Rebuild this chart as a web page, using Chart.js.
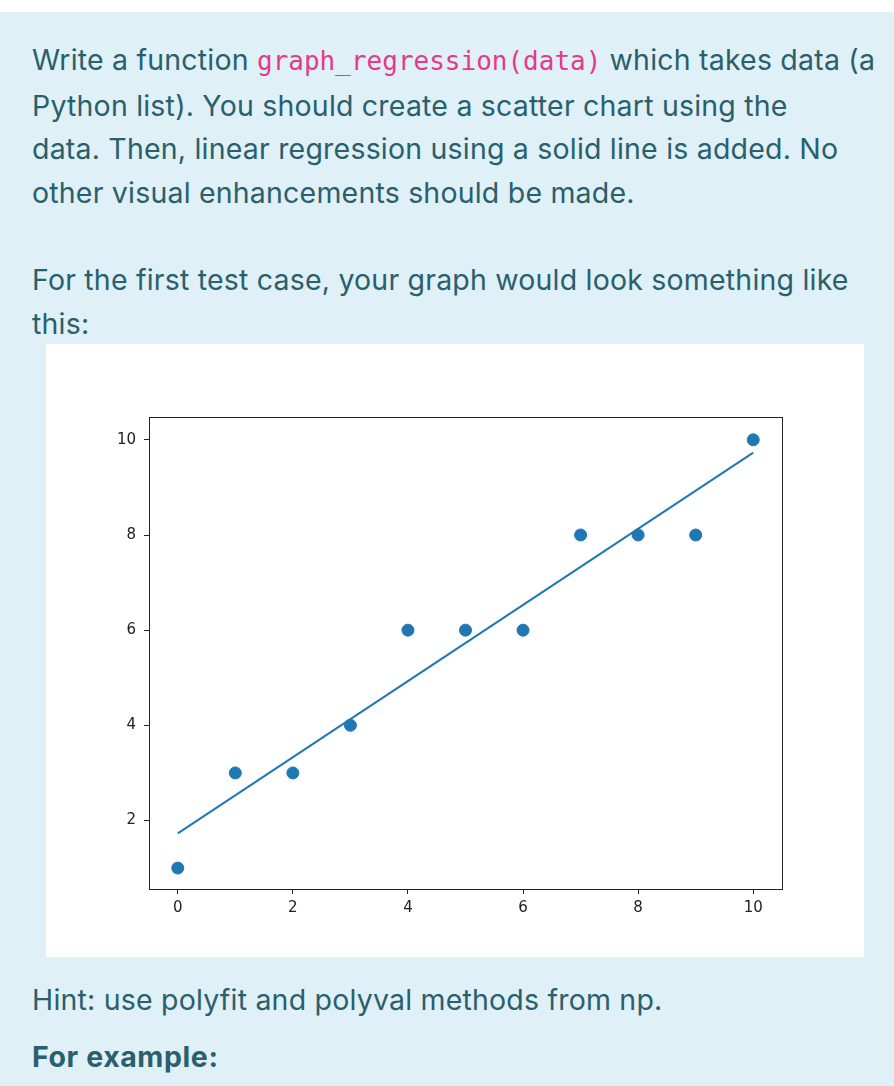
<!DOCTYPE html>
<html>
<head>
<meta charset="utf-8">
<script src="https://cdn.jsdelivr.net/npm/chart.js@4"></script>
<style>
    html, body { margin: 0; padding: 0; background: #ffffff; }
    #page {
        position: absolute; left: 0; top: 12px; width: 894px; height: 1074px;
        background: #dff0f7; color: #2a5f6d;
        font-family: Inter, "Open Sans", sans-serif; font-size: 28.5px; line-height: 43.5px;
        letter-spacing: 0.2px;
    }
    .para { position: absolute; left: 32px; margin: 0; white-space: nowrap; }
    code { font-family: "DejaVu Sans Mono", monospace; color: #e8388a; font-size: 26px; letter-spacing: 0; }
    #panel { position: absolute; left: 46px; top: 332px; width: 818px; height: 613px; background: #ffffff; letter-spacing: 0; }
    b { font-weight: 700; letter-spacing: 0.6px; }
</style>
</head>
<body>
<div id="page">
    <p class="para" style="top:26px">Write a function <code>graph_regression(data)</code> which takes data (a<br>Python list). You should create a scatter chart using the<br>data. Then, linear regression using a solid line is added. No<br>other visual enhancements should be made.</p>
    <p class="para" style="top:246px">For the first test case, your graph would look something like<br>this:</p>
    <div id="panel"><canvas id="regressionChart" width="818" height="613"></canvas></div>
    <p class="para" style="top:966px">Hint: use polyfit and polyval methods from np.</p>
    <p class="para" style="top:1023px"><b>For example:</b></p>
</div>
<script>
// data
const xValues = [0, 1, 2, 3, 4, 5, 6, 7, 8, 9, 10];
const yValues = [1, 3, 3, 4, 6, 6, 6, 8, 8, 8, 10];
const fitX = [0, 10];
const fitY = [1.73, 9.73];
const xTicks = [0, 2, 4, 6, 8, 10];
const yTicks = [2, 4, 6, 8, 10];

const blue = '#1f77b4';

// frame round the plot area, like matplotlib
const framePlugin = {
    id: 'frame',
    afterDraw(chart) {
        const a = chart.chartArea;
        const c = chart.ctx;
        c.save();
        c.strokeStyle = '#222';
        c.lineWidth = 1;
        c.strokeRect(Math.round(a.left) + 0.5, Math.round(a.top) + 0.5,
            Math.round(a.right - a.left), Math.round(a.bottom - a.top));
        c.restore();
    }
};

window.onload = function() {
    var ctx = document.getElementById('regressionChart').getContext('2d');

    var config = {
        type: 'scatter',
        data: {
            datasets: [{
                label: 'data',
                data: xValues.map((x, i) => ({x: x, y: yValues[i]})),
                backgroundColor: blue,
                borderColor: blue,
                pointRadius: 6,
                pointHoverRadius: 6,
                order: 1
            }, {
                type: 'line',
                label: 'fit',
                data: fitX.map((x, i) => ({x: x, y: fitY[i]})),
                borderColor: blue,
                borderWidth: 2,
                pointRadius: 0,
                fill: false,
                order: 2
            }]
        },
        options: {
            responsive: false,
            animation: false,
            layout: { padding: { left: 0, right: 82, top: 73, bottom: 38 } },
            plugins: {
                legend: { display: false },
                tooltip: { enabled: false }
            },
            scales: {
                x: {
                    type: 'linear',
                    min: -0.5,
                    max: 10.5,
                    afterBuildTicks: (s) => { s.ticks = xTicks.map(v => ({value: v})); },
                    afterFit: (s) => { s.height = 30; },
                    grid: { drawOnChartArea: false, tickLength: 5, tickColor: '#222', tickWidth: 1 },
                    border: { color: '#222', width: 1 },
                    ticks: { color: '#222', padding: 5, font: { family: 'DejaVu Sans', size: 15 } }
                },
                y: {
                    type: 'linear',
                    min: 0.56,
                    max: 10.48,
                    afterBuildTicks: (s) => { s.ticks = yTicks.map(v => ({value: v})); },
                    afterFit: (s) => { s.width = 103; },
                    grid: { drawOnChartArea: false, tickLength: 5, tickColor: '#222', tickWidth: 1 },
                    border: { color: '#222', width: 1 },
                    ticks: { color: '#222', padding: 8, font: { family: 'DejaVu Sans', size: 15 } }
                }
            }
        },
        plugins: [framePlugin]
    };

    var regressionChart = new Chart(ctx, config);
};
</script>
</body>
</html>
